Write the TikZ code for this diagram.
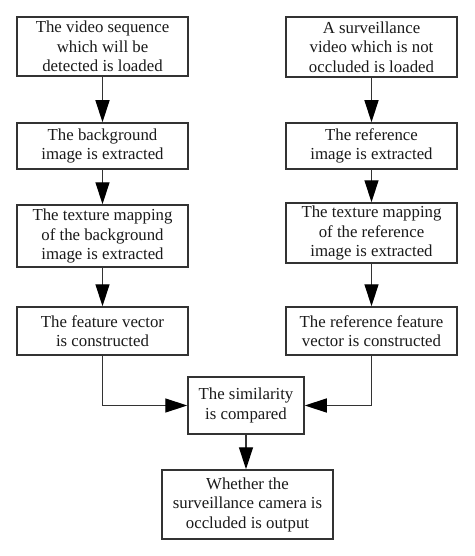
\documentclass[tikz,border=0pt]{standalone}
\usepackage{fontspec}
\setmainfont{Liberation Serif}
\usetikzlibrary{arrows.meta}
\definecolor{linec}{HTML}{333333}
\definecolor{textc}{HTML}{1A1A1A}
\tikzset{
  box/.style={draw=linec, line width=1.5pt, rectangle, inner sep=0pt, align=center,
    text=textc, font=\fontsize{16.8}{19.5}\selectfont},
  flow/.style={draw=linec, line width=1.4pt, -{Triangle[width=14pt,length=22pt,fill=black,color=black]}},
}
\begin{document}
\begin{tikzpicture}[x=1pt,y=-1pt]
\useasboundingbox[fill=white] (0,0) rectangle (474,556);
\node[box, minimum width=171pt, minimum height=59pt] (l1) at (102.5,46.5) {The video sequence\\which will be\\detected is loaded};
\node[box, minimum width=171pt, minimum height=46pt] (l2) at (102.5,146) {The background\\image is extracted};
\node[box, minimum width=171pt, minimum height=62pt] (l3) at (102.5,236) {The texture mapping\\of the background\\image is extracted};
\node[box, minimum width=171pt, minimum height=48pt] (l4) at (102.5,331) {The feature vector\\is constructed};
\node[box, minimum width=171pt, minimum height=60pt] (r1) at (371.5,47) {A surveillance\\video which is not\\occluded is loaded};
\node[box, minimum width=171pt, minimum height=46pt] (r2) at (371.5,146) {The reference\\image is extracted};
\node[box, minimum width=171pt, minimum height=60pt] (r3) at (371.5,233) {The texture mapping\\of the reference\\image is extracted};
\node[box, minimum width=171pt, minimum height=48pt] (r4) at (371.5,331) {The reference feature\\vector is constructed};
\node[box, minimum width=116pt, minimum height=57pt] (sim) at (246,405.5) {The similarity\\is compared};
\node[box, minimum width=171pt, minimum height=69pt] (out) at (247.5,504.5) {Whether the\\surveillance camera is\\occluded is output};
\draw[flow] (l1) -- (l2);
\draw[flow] (l2) -- (l3);
\draw[flow] (l3) -- (l4);
\draw[flow] (r1) -- (r2);
\draw[flow] (r2) -- (r3);
\draw[flow] (r3) -- (r4);
\draw[flow] (l4.south) |- (sim.west);
\draw[flow] (r4.south) |- (sim.east);
\draw[flow] (sim.south) -- (sim.south |- out.north);
\end{tikzpicture}
\end{document}
